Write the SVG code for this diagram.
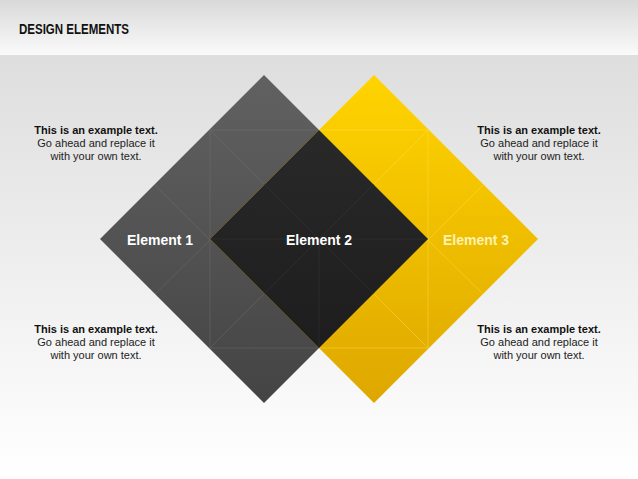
<svg xmlns="http://www.w3.org/2000/svg" width="638" height="479" viewBox="0 0 638 479">
<defs>
<linearGradient id="hdr" x1="0" y1="0" x2="0" y2="1"><stop offset="0" stop-color="#d9d9d9"/><stop offset="1" stop-color="#fafafa"/></linearGradient>
<linearGradient id="body" x1="0" y1="0" x2="0" y2="1"><stop offset="0" stop-color="#dedede"/><stop offset="1" stop-color="#ffffff"/></linearGradient>
<linearGradient id="gG" x1="0" y1="0" x2="0" y2="1"><stop offset="0" stop-color="#616161"/><stop offset="1" stop-color="#444444"/></linearGradient>
<linearGradient id="gY" x1="0" y1="0" x2="0" y2="1"><stop offset="0" stop-color="#ffd400"/><stop offset="1" stop-color="#dea700"/></linearGradient>
<linearGradient id="gD" x1="0" y1="0" x2="0" y2="1"><stop offset="0" stop-color="#292929"/><stop offset="1" stop-color="#1d1d1d"/></linearGradient>
<style>
.t{font-family:"Liberation Sans",Arial,sans-serif;font-size:11px;fill:#222;text-anchor:middle}
.b{font-weight:bold;fill:#111}
.lbl{font-family:"Liberation Sans",Arial,sans-serif;font-size:14px;font-weight:bold;text-anchor:middle}
.fg{fill:none;stroke:#777;stroke-width:0.7;opacity:0.5}
.fy{fill:none;stroke:#ffe24a;stroke-width:0.7;opacity:0.6}
.fd{fill:none;stroke:#3a3a3a;stroke-width:0.7;opacity:0.6}
</style>
</defs>
<rect x="0" y="0" width="638" height="55" fill="url(#hdr)"/>
<rect x="0" y="55" width="638" height="424" fill="url(#body)"/>
<text x="19" y="34" font-family="Liberation Sans,Arial,sans-serif" font-size="14" font-weight="bold" fill="#111" textLength="110" lengthAdjust="spacingAndGlyphs">DESIGN ELEMENTS</text>

<g id="element1">
<polygon points="264,75 428,239 264,403 100,239" fill="url(#gG)"/>
<path class="fg" d="M210,130 V348 M210,348 H319 M210,130 H319 M155,185 L210,240 L155,294 M210,130 L264,184 M210,348 L264,294"/>
<text class="lbl" x="160" y="245" fill="#ffffff">Element 1</text>
</g>

<g id="element3">
<polygon points="374,75 538,239 374,403 210,239" fill="url(#gY)"/>
<path class="fy" d="M428,130 V348 M319,348 H428 M319,130 H428 M483,185 L428,240 L483,294 M428,130 L374,184 M428,348 L374,294"/>
<text class="lbl" x="476" y="245" fill="#fff2b0">Element 3</text>
</g>

<g id="element2">
<polygon points="319,130 428,239 319,348 210,239" fill="url(#gD)"/>
<path class="fd" d="M210,239 H428 M319,239 V348 M264,294 L319,239 L374,294 M264,184 L319,239 L374,184"/>
<text class="lbl" x="319" y="245" fill="#ffffff">Element 2</text>
</g>

<g id="text-tl">
<text class="t b" x="96" y="134">This is an example text.</text>
<text class="t" x="96" y="147">Go ahead and replace it</text>
<text class="t" x="96" y="160">with your own text.</text>
</g>
<g id="text-tr">
<text class="t b" x="539" y="134">This is an example text.</text>
<text class="t" x="539" y="147">Go ahead and replace it</text>
<text class="t" x="539" y="160">with your own text.</text>
</g>
<g id="text-bl">
<text class="t b" x="96" y="333">This is an example text.</text>
<text class="t" x="96" y="346">Go ahead and replace it</text>
<text class="t" x="96" y="359">with your own text.</text>
</g>
<g id="text-br">
<text class="t b" x="539" y="333">This is an example text.</text>
<text class="t" x="539" y="346">Go ahead and replace it</text>
<text class="t" x="539" y="359">with your own text.</text>
</g>
<g id="connectors"/>
</svg>
